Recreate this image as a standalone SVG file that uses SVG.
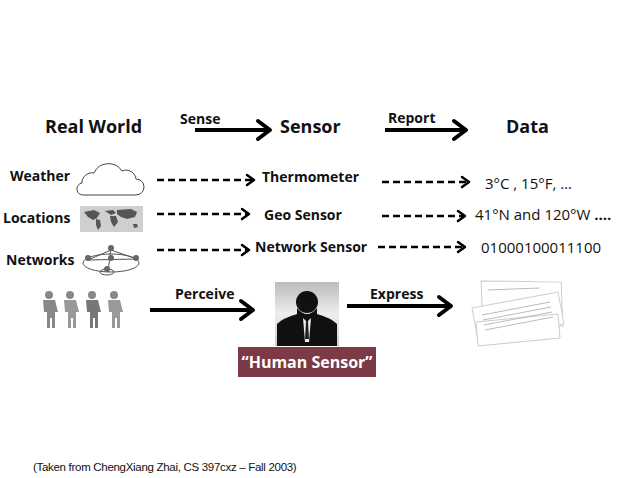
<svg xmlns="http://www.w3.org/2000/svg" width="638" height="478" viewBox="0 0 638 478">
<defs>
<style>
text{font-family:"Open Sans","Liberation Sans",sans-serif;fill:#111}
.h{font-size:18px;font-weight:bold}
.b{font-size:14px;font-weight:bold}
.n{font-size:15px}
.solid{stroke:#000;stroke-width:4;fill:none}
.dash{stroke:#000;stroke-width:2.5;stroke-dasharray:7 4;fill:none}
.head{stroke:#000;fill:none;stroke-linecap:round;stroke-linejoin:round}
.pp{fill:#888}
.paper{fill:#fff;stroke:#ccc;stroke-width:1}
.line{stroke:#aaa;stroke-width:0.8}
</style>
<linearGradient id="bg" x1="0" y1="0" x2="0" y2="1"><stop offset="0" stop-color="#bbb"/><stop offset="0.5" stop-color="#eee"/><stop offset="1" stop-color="#ccc"/></linearGradient>
</defs>
<rect width="638" height="478" fill="#fff"/>
<g id="header">
<text class="h" x="45" y="133">Real World</text>
<text class="h" x="280" y="133">Sensor</text>
<text class="h" x="506" y="133">Data</text>
<text class="b" x="180" y="124">Sense</text>
<text class="b" x="388" y="123">Report</text>
</g>
<g id="weather">
<text class="b" x="10" y="181">Weather</text>
<path d="M84,195 h52 a8,8 0 0 0 0,-16 a10,10 0 0 0 -14,-8 a16,16 0 0 0 -28,2 a10,10 0 0 0 -12,10 a6,6 0 0 0 2,12 z" fill="#fff" stroke="#444" stroke-width="1"/>
</g>
<g id="locations">
<text class="b" x="3" y="223">Locations</text>
<rect x="80" y="206" width="63" height="26" fill="#cfcfcf"/>
<path d="M84,212 l10,-2 6,3 -3,5 -4,2 -5,-3z M96,219 l4,1 1,6 -3,4 -2,-5z M105,211 l8,-1 3,3 -5,2z M110,216 l6,0 2,6 -4,5 -3,-5z M117,210 l14,-1 6,3 -2,5 -8,2 -6,-2 -4,-3z M133,224 l4,0 1,3 -4,1z" fill="#555"/>
</g>
<g id="networks">
<text class="b" x="6" y="265">Networks</text>
<g fill="none" stroke="#555" stroke-width="1">
<ellipse cx="111" cy="263" rx="28" ry="9"/>
<line x1="88" y1="260" x2="137" y2="259"/><line x1="111" y1="248" x2="108" y2="272"/>
<line x1="88" y1="260" x2="111" y2="250"/><line x1="111" y1="250" x2="137" y2="259"/>
<ellipse cx="107" cy="272" rx="7" ry="3"/>
</g>
<g fill="#666"><circle cx="88" cy="258" r="3"/><circle cx="111" cy="248" r="3"/><circle cx="111" cy="258" r="3"/><circle cx="136" cy="258" r="3"/><circle cx="107" cy="269" r="3"/></g>
</g>
<g id="people">
<g class="pp">
<circle cx="49" cy="295" r="4"/><path d="M43,300 h12 l3,12 h-3 v16 h-3 v-10 h-2 v10 h-3 v-16 h-3z"/>
<circle cx="70" cy="295" r="4"/><path d="M64,300 h12 l3,12 h-3 v16 h-3 v-10 h-2 v10 h-3 v-16 h-3z" fill="#999"/>
<circle cx="92" cy="295" r="4"/><path d="M86,300 h12 l3,12 h-3 v16 h-3 v-10 h-2 v10 h-3 v-16 h-3z" fill="#777"/>
<circle cx="114" cy="295" r="4"/><path d="M108,300 h12 l3,12 h-3 v16 h-3 v-10 h-2 v10 h-3 v-16 h-3z" fill="#999"/>
</g>
</g>
<g id="thermometer"><text class="b" x="262" y="182">Thermometer</text></g>
<g id="geosensor"><text class="b" x="264" y="220">Geo Sensor</text></g>
<g id="networksensor"><text class="b" x="255" y="252">Network Sensor</text></g>
<g id="d1"><text class="n" x="485" y="189">3°C , 15°F, …</text></g>
<g id="d2"><text class="n" x="475" y="220">41°N and 120°W <tspan font-weight="bold">….</tspan></text></g>
<g id="d3"><text class="n" x="481" y="253">01000100011100</text></g>
<g id="human">
<rect x="275" y="282" width="64" height="64" fill="url(#bg)"/>
<circle cx="307" cy="302" r="11" fill="#111"/>
<path d="M297,308 q10,12 20,0 v6 q14,4 20,10 v22 h-60 v-22 q6,-6 20,-10z" fill="#111"/>
<path d="M303,318 l4,4 4,-4 -2,24 h-4z" fill="#eee"/><path d="M306,321 h2 l1,18 h-4z" fill="#222"/>
<rect x="238" y="347" width="138" height="30" fill="#7b3a45"/>
<text x="307" y="368" text-anchor="middle" style="fill:#fff;font-size:16px;font-weight:bold">“Human Sensor”</text>
</g>
<g id="papers">
<path class="paper" d="M480,283 l80,-3 4,44 -80,3z" transform="rotate(3 520 303)"/>
<path class="paper" d="M472,308 l86,-16 6,32 -86,16z"/>
<path class="paper" d="M476,322 l82,-8 2,24 -82,8z"/>
<g class="line"><line x1="482" y1="315" x2="550" y2="302"/><line x1="483" y1="320" x2="551" y2="307"/><line x1="484" y1="325" x2="552" y2="312"/><line x1="485" y1="330" x2="553" y2="317"/><line x1="488" y1="290" x2="540" y2="288"/></g>
</g>
<g id="connectors">
<path class="solid" d="M195,130 h75"/><path class="head" stroke-width="4" d="M258,121 l12,9 -12,9"/>
<path class="solid" d="M385,130 h81"/><path class="head" stroke-width="4" d="M454,121 l12,9 -12,9"/>
<path class="dash" d="M157,180 h96"/><path class="head" stroke-width="2.5" d="M247,175 l7,5 -7,5"/>
<path class="dash" d="M382,182 h86"/><path class="head" stroke-width="2.5" d="M462,177 l7,5 -7,5"/>
<path class="dash" d="M157,214 h91"/><path class="head" stroke-width="2.5" d="M242,209 l7,5 -7,5"/>
<path class="dash" d="M382,216 h82"/><path class="head" stroke-width="2.5" d="M458,211 l7,5 -7,5"/>
<path class="dash" d="M157,250 h91"/><path class="head" stroke-width="2.5" d="M242,245 l7,5 -7,5"/>
<path class="dash" d="M378,247 h86"/><path class="head" stroke-width="2.5" d="M458,242 l7,5 -7,5"/>
<path class="solid" d="M150,310 h103"/><path class="head" stroke-width="4" d="M241,301 l12,9 -12,9"/>
<path class="solid" d="M347,306 h104"/><path class="head" stroke-width="4" d="M439,297 l12,9 -12,9"/>
<text class="b" x="175" y="299">Perceive</text>
<text class="b" x="370" y="299">Express</text>
</g>
<text x="33" y="471" style="font-size:11.5px;font-family:'Liberation Sans',sans-serif;letter-spacing:-0.3px">(Taken from ChengXiang Zhai, CS 397cxz – Fall 2003)</text>
</svg>
